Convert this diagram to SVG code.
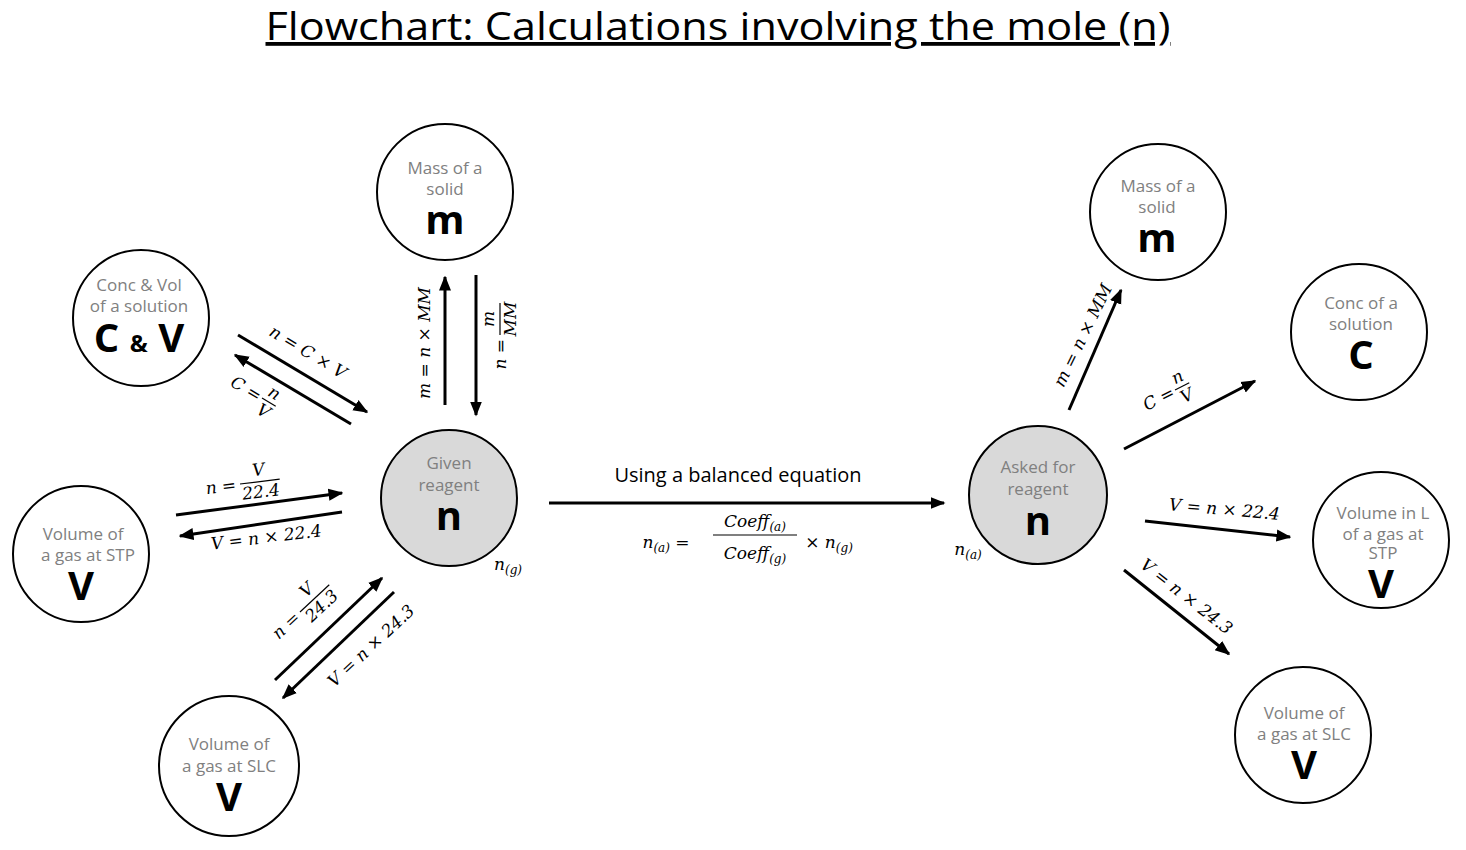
<svg xmlns="http://www.w3.org/2000/svg" width="1466" height="850" viewBox="0 0 1466 850">
<defs>
<marker id="ah" viewBox="0 0 10 10" refX="9" refY="5" markerWidth="5" markerHeight="5" orient="auto-start-reverse" markerUnits="strokeWidth"><path d="M0,1 L10,5 L0,9 z" fill="#000"/></marker>
<style>
.nd{fill:#fff;stroke:#000;stroke-width:2}
.gr{fill:#d9d9d9}
.lb{font-family:"Open Sans","Liberation Sans",sans-serif;font-size:17px;fill:#808080;text-anchor:middle}
.bg{font-family:"Open Sans","Liberation Sans",sans-serif;font-size:40px;font-weight:bold;fill:#000;text-anchor:middle}
.ar{stroke:#000;stroke-width:3;fill:none;marker-end:url(#ah)}
.fr{stroke:#000;stroke-width:1.2}
.mt{font-family:"DejaVu Serif","Liberation Serif",serif;font-style:italic;font-size:17px;fill:#000;text-anchor:middle}
.me{text-anchor:end}
.sb{font-size:12px}
.tx{font-family:"Open Sans","Liberation Sans",sans-serif;font-size:20px;fill:#000;text-anchor:middle}
</style>
</defs>
<rect width="1466" height="850" fill="#fff"/>
<text x="718" y="40" font-family="Open Sans, Liberation Sans, sans-serif" font-size="38" text-anchor="middle" text-decoration="underline" textLength="905" lengthAdjust="spacingAndGlyphs">Flowchart: Calculations involving the mole (n)</text>

<g id="n-mass-l"><circle class="nd" cx="445" cy="192" r="68"/><text class="lb" x="445" y="174">Mass of a</text><text class="lb" x="445" y="195">solid</text><text class="bg" x="445" y="234">m</text></g>
<g id="n-cv"><circle class="nd" cx="141" cy="318" r="68"/><text class="lb" x="139" y="291">Conc &amp; Vol</text><text class="lb" x="139" y="312">of a solution</text><text class="bg" x="139" y="352">C <tspan font-size="24">&amp;</tspan> V</text></g>
<g id="n-stp-l"><circle class="nd" cx="81" cy="554" r="68"/><text class="lb" x="83" y="540">Volume of</text><text class="lb" x="88" y="561">a gas at STP</text><text class="bg" x="81" y="600">V</text></g>
<g id="n-slc-l"><circle class="nd" cx="229" cy="766" r="70"/><text class="lb" x="229" y="750">Volume of</text><text class="lb" x="229" y="772">a gas at SLC</text><text class="bg" x="229" y="811">V</text></g>
<g id="n-given"><circle class="nd gr" cx="449" cy="498" r="68"/><text class="lb" x="449" y="469">Given</text><text class="lb" x="449" y="491">reagent</text><text class="bg" x="449" y="530">n</text></g>
<g id="n-asked"><circle class="nd gr" cx="1038" cy="495" r="69"/><text class="lb" x="1038" y="473">Asked for</text><text class="lb" x="1038" y="495">reagent</text><text class="bg" x="1038" y="535">n</text></g>
<g id="n-mass-r"><circle class="nd" cx="1158" cy="212" r="68"/><text class="lb" x="1158" y="192">Mass of a</text><text class="lb" x="1157" y="213">solid</text><text class="bg" x="1157" y="252">m</text></g>
<g id="n-c-r"><circle class="nd" cx="1359" cy="332" r="68"/><text class="lb" x="1361" y="309">Conc of a</text><text class="lb" x="1361" y="330">solution</text><text class="bg" x="1361" y="369">C</text></g>
<g id="n-stp-r"><circle class="nd" cx="1381" cy="540" r="68"/><text class="lb" x="1383" y="519">Volume in L</text><text class="lb" x="1383" y="540">of a gas at</text><text class="lb" x="1383" y="559">STP</text><text class="bg" x="1381" y="598">V</text></g>
<g id="n-slc-r"><circle class="nd" cx="1303" cy="735" r="68"/><text class="lb" x="1304" y="719">Volume of</text><text class="lb" x="1304" y="740">a gas at SLC</text><text class="bg" x="1304" y="779">V</text></g>

<g id="connectors">
<line class="ar" x1="445" y1="405" x2="445" y2="277"/>
<line class="ar" x1="476" y1="275" x2="476" y2="415"/>
<line class="ar" x1="238" y1="335" x2="367" y2="412"/>
<line class="ar" x1="351" y1="424" x2="235" y2="355"/>
<line class="ar" x1="176" y1="515" x2="342" y2="493"/>
<line class="ar" x1="342" y1="512" x2="180" y2="536"/>
<line class="ar" x1="275" y1="680" x2="382" y2="578"/>
<line class="ar" x1="394" y1="592" x2="283" y2="698"/>
<line class="ar" x1="549" y1="503" x2="944" y2="503"/>
<line class="ar" x1="1069" y1="410" x2="1121" y2="290"/>
<line class="ar" x1="1124" y1="449" x2="1255" y2="381"/>
<line class="ar" x1="1145" y1="521" x2="1290" y2="537"/>
<line class="ar" x1="1124" y1="570" x2="1229" y2="654"/>
</g>

<g id="labels">
<text class="mt" transform="translate(430,343) rotate(-90)">m = n × MM</text>
<g transform="translate(500,335) rotate(-90)"><text class="mt me" x="-4" y="6">n =</text><text class="mt" x="16" y="-6">m</text><line class="fr" x1="0" y1="0" x2="32" y2="0"/><text class="mt" x="16" y="16">MM</text></g>
<text class="mt" transform="translate(305,357) rotate(31)">n = C × V</text>
<g transform="translate(262,398) rotate(31)"><text class="mt me" x="-2" y="6">C =</text><text class="mt" x="8" y="-5">n</text><line class="fr" x1="0" y1="0" x2="16" y2="0"/><text class="mt" x="8" y="16">V</text></g>
<g transform="translate(240,484) rotate(-7)"><text class="mt me" x="-4" y="6">n =</text><text class="mt" x="20" y="-6">V</text><line class="fr" x1="0" y1="0" x2="40" y2="0"/><text class="mt" x="20" y="16">22.4</text></g>
<text class="mt" transform="translate(267,543) rotate(-7)">V = n × 22.4</text>
<g transform="translate(300,612) rotate(-43)"><text class="mt me" x="-4" y="6">n =</text><text class="mt" x="20" y="-6">V</text><line class="fr" x1="0" y1="0" x2="40" y2="0"/><text class="mt" x="20" y="16">24.3</text></g>
<text class="mt" transform="translate(375,650) rotate(-43)">V = n × 24.3</text>
<text class="tx" x="738" y="482">Using a balanced equation</text>
<text class="mt" x="666" y="548">n<tspan class="sb" dy="4">(a)</tspan><tspan dy="-4" font-style="normal"> =</tspan></text>
<text class="mt" x="755" y="527">Coeff<tspan class="sb" dy="4">(a)</tspan></text>
<line class="fr" x1="713" y1="535" x2="797" y2="535"/>
<text class="mt" x="755" y="559">Coeff<tspan class="sb" dy="4">(g)</tspan></text>
<text class="mt" x="829" y="548"><tspan font-style="normal">× </tspan>n<tspan class="sb" dy="4">(g)</tspan></text>
<text class="mt" x="508" y="570">n<tspan class="sb" dy="4">(g)</tspan></text>
<text class="mt" x="968" y="555">n<tspan class="sb" dy="4">(a)</tspan></text>
<text class="mt" transform="translate(1088,338) rotate(-64)">m = n × MM</text>
<g transform="translate(1175,390) rotate(-27)"><text class="mt me" x="-2" y="6">C =</text><text class="mt" x="8" y="-5">n</text><line class="fr" x1="0" y1="0" x2="16" y2="0"/><text class="mt" x="8" y="16">V</text></g>
<text class="mt" transform="translate(1224,515) rotate(5)">V = n × 22.4</text>
<text class="mt" transform="translate(1183,601) rotate(38)">V = n × 24.3</text>
</g>
</svg>
